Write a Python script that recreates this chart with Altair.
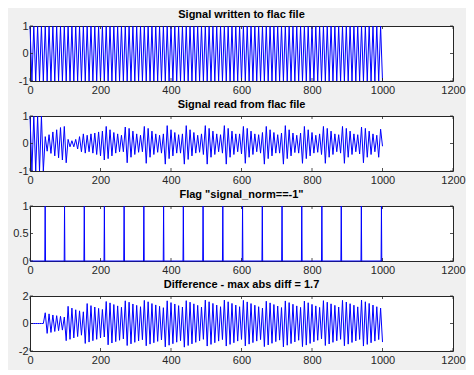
import altair as alt
import numpy as np
import pandas as pd

# ---- data ----
X_TICKS = [0, 200, 400, 600, 800, 1000, 1200]
X_END = 1000

# extrema of the written signal (full-scale tone)
WRITTEN = [
    1, -1, 1, -1, 1, -1, 1, -1, 1, -1,
    1, -1, 1, -1, 1, -1, 1, -1, 1, -1,
    1, -1, 1, -1, 1, -1, 1, -1, 1, -1,
    1, -1, 1, -1, 1, -1, 1, -1, 1, -1,
    1, -1, 1, -1, 1, -1, 1, -1, 1, -1,
    1, -1, 1, -1, 1, -1, 1, -1, 1, -1,
    1, -1, 1, -1, 1, -1, 1, -1, 1, -1,
    1, -1, 1, -1, 1, -1, 1, -1, 1, -1,
    1, -1, 1, -1, 1, -1, 1, -1, 1, -1,
    1, -1, 1, -1, 1, -1, 1, -1, 1, -1,
    1, -1, 1, -1, 1, -1, 1, -1, 1, -1,
    1, -1, 1, -1, 1, -1, 1, -1, 1, -1,
    1, -1, 1, -1, 1, -1, 1, -1, 1, -1,
    1, -1, 1, -1, 1, -1, 1, -1, 1, -1,
    1, -1, 1, -1, 1, -1, 1, -1, 1, -1,
    1, -1, 1, -1, 1, -1, 1, -1, 1, -1,
    1, -1, 1, -1, 1, -1, 1, -1, 1, -1,
    1, -1, 1, -1, 1, -1, 1, -1, 1, -1,
    1, -1, 1, -1, 1, -1,
]

# extrema of the signal read back
READ = [
    1, -1, 1, -1, 1, -1, 1, -1,
    0.25, -0.28, 0.32, -0.36, 0.42, -0.45, 0.5, -0.52, 0.58, -0.6, 0.62,
    -0.7, 0.15, -0.12, 0.1, -0.12, 0.15, -0.2, 0.25, -0.3, 0.35,
    -0.35, 0.3, -0.3, 0.35, -0.35, 0.38, -0.4, 0.42, -0.45, 0.45, -0.6,
    0.62, -0.55, 0.5, -0.45, 0.4, -0.35, 0.35, -0.3, 0.3, -0.3,
    0.6, -0.7, 0.55, -0.5, 0.45, -0.4, 0.35, -0.32, 0.3, -0.3,
    0.62, -0.72, 0.55, -0.5, 0.45, -0.4, 0.35, -0.32, 0.3, -0.35, 0.35,
    -0.75, 0.65, -0.55, 0.5, -0.45, 0.4, -0.35, 0.32, -0.35, 0.35,
    -0.75, 0.65, -0.58, 0.5, -0.45, 0.4, -0.35, 0.3, -0.32, 0.35, -0.4,
    0.65, -0.75, 0.55, -0.5, 0.45, -0.4, 0.35, -0.3, 0.32, -0.35,
    0.65, -0.75, 0.55, -0.5, 0.45, -0.4, 0.35, -0.3, 0.35, -0.38,
    0.62, -0.72, 0.55, -0.5, 0.45, -0.4, 0.35, -0.3, 0.32, -0.35, 0.4,
    -0.75, 0.62, -0.55, 0.5, -0.45, 0.4, -0.35, 0.32, -0.35, 0.38,
    -0.75, 0.65, -0.55, 0.5, -0.45, 0.38, -0.33, 0.3, -0.35, 0.38,
    -0.72, 0.62, -0.55, 0.5, -0.45, 0.4, -0.35, 0.3, -0.32, 0.35, -0.4,
    0.62, -0.72, 0.55, -0.5, 0.45, -0.4, 0.35, -0.3, 0.32, -0.35,
    0.62, -0.72, 0.55, -0.5, 0.45, -0.4, 0.35, -0.3, 0.32, -0.38,
    0.6, -0.7, 0.55, -0.5, 0.45, -0.4, 0.35, -0.3, 0.3, -0.5, 0.52, -0.1,
]

# sample indices where signal_norm == -1
FLAG_X = [43, 98, 154, 211, 267, 323, 379, 435, 491, 547, 603, 659, 715,
          771, 828, 883, 940, 997]

# extrema of the difference signal
DIFF = [
    0, 0, 0, 0, 0, 0, 0, 0,
    0.78, -0.72, 0.7, -0.65, 0.62, -0.58, 0.57, -0.52, 0.52, -0.48, 0.47,
    -1.25, 1.25, -1.15, 1.12, -1.05, 1.0, -0.95, 0.92, -0.85, 0.85,
    -1.45, 1.45, -1.35, 1.3, -1.25, 1.2, -1.15, 1.1, -1.05, 1.02, -0.98,
    1.6, -1.55, 1.5, -1.42, 1.38, -1.32, 1.28, -1.22, 1.18, -1.12,
    1.65, -1.6, 1.55, -1.48, 1.42, -1.37, 1.32, -1.27, 1.22, -1.18,
    1.68, -1.62, 1.58, -1.5, 1.45, -1.4, 1.35, -1.3, 1.25, -1.2, 1.15,
    -1.7, 1.65, -1.58, 1.52, -1.47, 1.42, -1.36, 1.3, -1.25, 1.2,
    -1.72, 1.66, -1.6, 1.55, -1.48, 1.43, -1.37, 1.32, -1.26, 1.2, -1.15,
    1.7, -1.64, 1.58, -1.52, 1.46, -1.4, 1.34, -1.28, 1.22, -1.17,
    1.7, -1.64, 1.58, -1.52, 1.46, -1.4, 1.34, -1.28, 1.22, -1.16,
    1.68, -1.63, 1.57, -1.5, 1.45, -1.39, 1.33, -1.28, 1.22, -1.17, 1.12,
    -1.68, 1.62, -1.56, 1.5, -1.44, 1.38, -1.32, 1.27, -1.21, 1.16,
    -1.7, 1.64, -1.58, 1.52, -1.46, 1.4, -1.34, 1.28, -1.22, 1.17,
    -1.68, 1.63, -1.57, 1.51, -1.45, 1.39, -1.33, 1.28, -1.22, 1.17, -1.12,
    1.66, -1.6, 1.55, -1.49, 1.43, -1.37, 1.32, -1.26, 1.2, -1.15,
    1.68, -1.62, 1.56, -1.5, 1.44, -1.38, 1.33, -1.27, 1.21, -1.16,
    1.7, -1.64, 1.58, -1.52, 1.46, -1.4, 1.34, -1.28, 1.22, -1.17, 1.12, -1.35,
]

TITLES = ["Signal written to flac file", "Signal read from flac file",
          'Flag "signal_norm==-1"', "Difference - max abs diff = 1.7"]
Y_DOMAINS = [[-1, 1], [-1, 1], [0, 1], [-2, 2]]
Y_TICKS = [[-1, 0, 1], [-1, 0, 1], [0, 0.5, 1], [-2, 0, 2]]

# ---- build tables ----
def sampled(vals):
    xs = np.linspace(0, X_END, len(vals))
    return pd.DataFrame({"x": xs, "y": vals})

flag_pts = [(0, 0)]
for f in FLAG_X:
    flag_pts += [(f - 1, 0), (f, 1), (f + 1, 0)]
flag_pts.append((X_END, 0))
flag_df = pd.DataFrame(flag_pts, columns=["x", "y"])

tables = [sampled(WRITTEN), sampled(READ), flag_df, sampled(DIFF)]

W, H = 423, 55
BLUE = "#0000ff"
AX = "#262626"
FONT = "Liberation Sans"


def panel(df, title, ydom, yticks):
    xs = alt.Scale(domain=[0, 1200], nice=False, zero=False)
    ys = alt.Scale(domain=ydom, nice=False, zero=False)
    xax = alt.Axis(values=X_TICKS, title=None, ticks=False, domain=False, grid=False,
                   labelPadding=3, labelFontSize=11, labelColor=AX, labelFont=FONT,
                   labelFlush=False, labelOverlap=False, labelExpr="'' + datum.value")
    yax = alt.Axis(values=yticks, title=None, ticks=False, domain=False, grid=False,
                   labelPadding=2, labelFontSize=11, labelColor=AX, labelFont=FONT,
                   labelFlush=False, labelOverlap=False, labelExpr="'' + datum.value")
    line = alt.Chart(df).mark_line(color=BLUE, strokeWidth=1).encode(
        x=alt.X("x:Q", scale=xs, axis=xax),
        y=alt.Y("y:Q", scale=ys, axis=yax),
    )
    xt = pd.DataFrame({"x": X_TICKS})
    yt = pd.DataFrame({"y": yticks})
    tb = alt.Chart(xt).mark_rule(color=AX, strokeWidth=0.8).encode(
        x=alt.X("x:Q", scale=xs, axis=xax), y=alt.value(H), y2=alt.value(H - 3))
    tt = alt.Chart(xt).mark_rule(color=AX, strokeWidth=0.8).encode(
        x=alt.X("x:Q", scale=xs, axis=xax), y=alt.value(0), y2=alt.value(3))
    tl = alt.Chart(yt).mark_rule(color=AX, strokeWidth=0.8).encode(
        y=alt.Y("y:Q", scale=ys, axis=yax), x=alt.value(0), x2=alt.value(3))
    tr = alt.Chart(yt).mark_rule(color=AX, strokeWidth=0.8).encode(
        y=alt.Y("y:Q", scale=ys, axis=yax), x=alt.value(W - 3), x2=alt.value(W))
    return alt.layer(line, tb, tt, tl, tr).properties(
        width=W, height=H,
        title=alt.TitleParams(title, fontSize=11, font=FONT, fontWeight="bold",
                              color="#000000", offset=0, anchor="middle"),
    )


panels = [panel(tables[i], TITLES[i], Y_DOMAINS[i], Y_TICKS[i]) for i in range(4)]

chart = alt.vconcat(*panels, spacing=2).properties(
    background="#f0f0f0",
    padding={"left": 4, "top": 0, "right": 0, "bottom": 4},
).configure_view(stroke=AX, strokeWidth=1, fill="#ffffff")

chart.save("out.html", embed_options={"renderer": "svg", "actions": False})
